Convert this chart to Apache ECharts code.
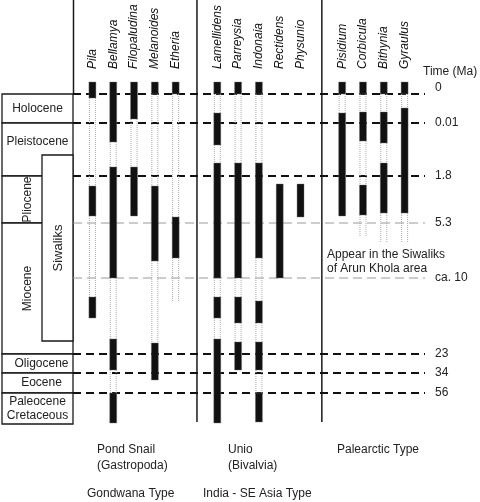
<!DOCTYPE html>
<html>
<head>
<meta charset="utf-8">
<title>Freshwater molluscs ranges</title>
<script src="https://cdn.jsdelivr.net/npm/echarts@6/dist/echarts.min.js"></script>
<style>
  html, body { margin: 0; padding: 0; background: #fff; }
  #chart { width: 480px; height: 502px; }
</style>
</head>
<body>
<div id="chart"></div>
<script>
// columns, the blank slots are where the group dividers go
var taxa = ['Pila', 'Bellamya', 'Filopaludina', 'Melanoides', 'Etheria', ' ',
  'Lamellidens', 'Parreysia', 'Indonaia', 'Rectidens', 'Physunio', '  ',
  'Pisidium', 'Corbicula', 'Bithynia', 'Gyraulus'];

// position down the time column (0 = present, grows downward; scale is not linear in Ma)
var timeLabels = ['0', '0.01', '1.8', '5.3', 'ca. 10', '23', '34', '56'];
var timePos = [0, 29, 82, 129, 184, 260, 279, 299];
var timeMajor = [true, true, true, false, false, true, true, true];

var epochNames = ['Holocene', 'Pleistocene', 'Pliocene', 'Miocene', 'Oligocene', 'Eocene', 'Paleocene\nCretaceous'];
var epochTop = [0, 29, 82, 129, 260, 279, 299];
var epochBottom = [29, 82, 129, 260, 279, 299, 330];
var siwaliks = [61, 247];

// solid = found, gap = dotted (not recorded)
var found = {
  Pila: [[-12, 4], [92, 122], [203, 224]],
  Bellamya: [[-12, 48], [73, 184], [245, 276], [299, 329]],
  Filopaludina: [[-12, 25], [73, 122]],
  Melanoides: [[-12, 0], [92, 167], [249, 286]],
  Etheria: [[-12, 0], [123, 164]],
  Lamellidens: [[-12, 0], [19, 51], [69, 184], [203, 224], [245, 329]],
  Parreysia: [[-12, 0], [69, 184], [203, 229], [248, 276]],
  Indonaia: [[-12, 0], [69, 164], [207, 229], [248, 276], [299, 328]],
  Rectidens: [[90, 184]],
  Physunio: [[90, 123]],
  Pisidium: [[-12, 0], [19, 122]],
  Corbicula: [[-12, 0], [18, 47], [91, 121]],
  Bithynia: [[-12, 0], [18, 49], [69, 119]],
  Gyraulus: [[-12, 0], [14, 119]]
};
var gaps = {
  Pila: [[4, 92], [122, 203]],
  Bellamya: [[48, 73], [184, 245], [276, 299]],
  Filopaludina: [[25, 73]],
  Melanoides: [[0, 92], [167, 249]],
  Etheria: [[0, 123], [164, 208]],
  Lamellidens: [[0, 19], [51, 69], [184, 203], [224, 245]],
  Parreysia: [[0, 69], [184, 203], [229, 248]],
  Indonaia: [[0, 69], [164, 207], [229, 248], [276, 299]],
  Pisidium: [[0, 19]],
  Corbicula: [[0, 18], [47, 91], [121, 143]],
  Bithynia: [[0, 18], [49, 69], [119, 149]],
  Gyraulus: [[0, 14], [119, 149]]
};

var FONT = "'Liberation Sans', Arial, sans-serif";
var INK = '#1a1a1a';

var rangeData = [];
taxa.forEach(function (t, i) {
  (gaps[t] || []).forEach(function (r) { rangeData.push([i, r[0], r[1], 1]); });
});
taxa.forEach(function (t, i) {
  (found[t] || []).forEach(function (r) { rangeData.push([i, r[0], r[1], 0]); });
});

var dividerData = [];
taxa.forEach(function (t, i) { if (!t.trim()) dividerData.push([i, epochBottom[epochBottom.length - 1] - 2]); });

var epochData = epochNames.map(function (n, i) { return [epochTop[i], epochBottom[i], i]; });
epochData.push([siwaliks[0], siwaliks[1], -1]);

function renderRange(params, api) {
  var col = api.value(0);
  var a = api.coord([col, api.value(1)]);
  var b = api.coord([col, api.value(2)]);
  var half = 3.5;
  if (api.value(3) === 0) {
    return { type: 'rect', shape: { x: a[0] - half, y: a[1], width: half * 2, height: b[1] - a[1] },
      style: { fill: '#111', stroke: '#777', lineWidth: 0.4 } };
  }
  var st = { stroke: '#aaa', lineWidth: 1, lineDash: [1, 1] };
  return { type: 'group', children: [
    { type: 'line', shape: { x1: a[0] - half + 0.5, y1: a[1], x2: a[0] - half + 0.5, y2: b[1] }, style: st },
    { type: 'line', shape: { x1: a[0] + half - 0.5, y1: a[1], x2: a[0] + half - 0.5, y2: b[1] }, style: st }
  ] };
}

function renderBoundary(params, api) {
  var cs = params.coordSys;
  var i = api.value(1);
  var y = api.coord([0, api.value(0)])[1];
  var major = timeMajor[i];
  return { type: 'group', children: [
    { type: 'line', shape: { x1: cs.x - 9, y1: y, x2: cs.x + cs.width + 10, y2: y },
      style: { stroke: major ? '#111' : '#999', lineWidth: major ? 2 : 1.2, lineDash: major ? [8, 5] : [9, 5] } },
    { type: 'text', x: cs.x + cs.width + 20, y: i === 0 ? y - 6 : y,
      style: { text: timeLabels[i], fill: '#222', font: '12px ' + FONT, verticalAlign: 'middle' } }
  ] };
}

function renderDivider(params, api) {
  var p = api.coord([api.value(0), api.value(1)]);
  return { type: 'line', shape: { x1: p[0] + 0.5, y1: 0, x2: p[0] + 0.5, y2: p[1] },
    style: { stroke: INK, lineWidth: 1.5 } };
}

function renderEpoch(params, api) {
  var cs = params.coordSys;
  var left = 2, right = cs.x - 9;
  var top = api.coord([0, api.value(0)])[1];
  var bot = api.coord([0, api.value(1)])[1];
  var i = api.value(2);
  var font = '12px ' + FONT;
  if (i < 0) {
    return { type: 'group', children: [
      { type: 'rect', shape: { x: 42, y: top, width: right - 42, height: bot - top },
        style: { fill: '#fff', stroke: INK, lineWidth: 1.3 } },
      { type: 'text', x: 58, y: (top + bot) / 2, rotation: Math.PI / 2,
        style: { text: 'Siwaliks', fill: '#222', font: '13px ' + FONT, align: 'center', verticalAlign: 'middle' } }
    ] };
  }
  var name = epochNames[i];
  var vertical = name === 'Pliocene' || name === 'Miocene';
  var ty = (top + bot) / 2;
  if (name === 'Pleistocene') ty = (top + api.coord([0, siwaliks[0]])[1]) / 2 + 3;
  var children = [
    { type: 'rect', shape: { x: left, y: top, width: right - left, height: bot - top },
      style: { fill: '#fff', stroke: INK, lineWidth: 1.3 } }
  ];
  if (vertical) {
    children.push({ type: 'text', x: 27.5, y: ty, rotation: Math.PI / 2,
      style: { text: name, fill: '#222', font: font, align: 'center', verticalAlign: 'middle' } });
  } else {
    children.push({ type: 'text', x: (left + right) / 2 + (i >= 4 && i <= 5 ? 4 : 0), y: ty,
      style: { text: name, fill: '#222', font: font, align: 'center', verticalAlign: 'middle', lineHeight: 14 } });
  }
  return { type: 'group', children: children };
}

function txt(x, y, s) {
  return { type: 'text', x: x, y: y,
    style: { text: s, fill: '#222', font: '12px ' + FONT, verticalAlign: 'middle', lineHeight: 14 } };
}

var chart = echarts.init(document.getElementById('chart'));
var option = {
  animation: false,
  backgroundColor: '#fff',
  grid: { left: 82, right: 65, top: 82, bottom: 78, outerBoundsMode: 'none' },
  xAxis: {
    type: 'category',
    position: 'top',
    data: taxa,
    axisLine: { show: false },
    axisTick: { show: false },
    splitLine: { show: false },
    axisLabel: {
      interval: 0, rotate: 90, margin: 13,
      fontStyle: 'italic', fontSize: 12, fontFamily: FONT, color: '#111',
      padding: [0, 0, 5, 0]
    }
  },
  yAxis: { type: 'value', inverse: true, min: -12, max: 330, show: false },
  graphic: [
    txt(423, 72, 'Time (Ma)'),
    txt(327, 255, 'Appear in the Siwaliks'),
    txt(327, 269, 'of Arun Khola area'),
    txt(97, 450, 'Pond Snail'),
    txt(97, 466, '(Gastropoda)'),
    txt(228, 450, 'Unio'),
    txt(228, 466, '(Bivalvia)'),
    txt(337, 450, 'Palearctic Type'),
    txt(87, 494, 'Gondwana Type'),
    txt(203, 494, 'India - SE Asia Type')
  ],
  series: [
    { type: 'custom', name: 'table', renderItem: renderEpoch, data: epochData, silent: true },
    { type: 'custom', name: 'dividers', renderItem: renderDivider, data: dividerData, silent: true },
    { type: 'custom', name: 'boundaries', renderItem: renderBoundary,
      data: timePos.map(function (p, i) { return [p, i]; }), silent: true },
    { type: 'custom', name: 'ranges', renderItem: renderRange, data: rangeData, silent: true }
  ]
};
chart.setOption(option);

// table right edge runs up to the top of the page like the other dividers
chart.setOption({ graphic: option.graphic.concat([{
  type: 'line', shape: { x1: 73.5, y1: 0, x2: 73.5, y2: 94 }, style: { stroke: INK, lineWidth: 1.5 }
}]) });
</script>
</body>
</html>
